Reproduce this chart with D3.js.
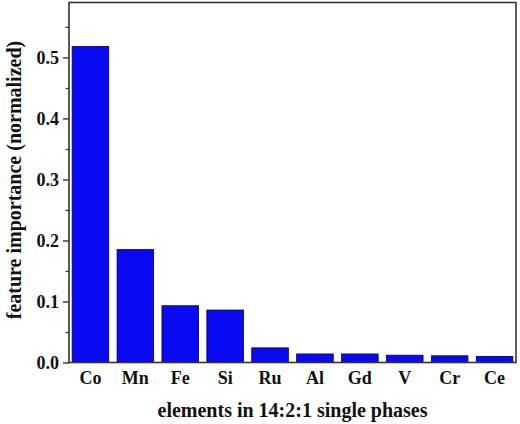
<!DOCTYPE html>
<html>
<head>
<meta charset="utf-8">
<script src="https://cdn.jsdelivr.net/npm/d3@7"></script>
<style>
  body { margin: 0; background: #fff; }
  svg { display: block; font-family: "Liberation Serif", "Times New Roman", serif; font-weight: bold; }
</style>
</head>
<body>
<svg id="chart" width="520" height="424"></svg>
<script>
// element names and normalized importance
const elements = ['Co', 'Mn', 'Fe', 'Si', 'Ru', 'Al', 'Gd', 'V', 'Cr', 'Ce'];
const importance = [0.518, 0.185, 0.093, 0.086, 0.024, 0.014, 0.014, 0.012, 0.011, 0.010];
const yTicks = [0.0, 0.1, 0.2, 0.3, 0.4, 0.5];
const yMinorTicks = [0.05, 0.15, 0.25, 0.35, 0.45, 0.55];

const width = 520;
const height = 424;
const margin = { top: 2.5, right: 4, bottom: 61.5, left: 69 };

const svg = d3.select('#chart');

const x = d3.scaleBand()
    .domain(elements)
    .range([margin.left, width - margin.right])
    .paddingInner(0.185)
    .paddingOuter(0.07);

const y = d3.scaleLinear()
    .domain([0, 0.59])
    .range([height - margin.bottom, margin.top]);

// bars
svg.append('g')
    .selectAll('rect')
    .data(elements)
    .join('rect')
    .attr('x', d => x(d))
    .attr('y', (d, i) => y(importance[i]))
    .attr('width', x.bandwidth())
    .attr('height', (d, i) => y(0) - y(importance[i]))
    .attr('fill', '#0a0af2')
    .attr('stroke', '#00005a')
    .attr('stroke-width', 0.8);

// frame around the plot
svg.append('rect')
    .attr('x', margin.left)
    .attr('y', margin.top)
    .attr('width', width - margin.left - margin.right)
    .attr('height', height - margin.top - margin.bottom)
    .attr('fill', 'none')
    .attr('stroke', '#333')
    .attr('stroke-width', 1.6);

// y axis, major ticks with labels
const yAxis = svg.append('g')
    .attr('transform', `translate(${margin.left},0)`)
    .call(d3.axisLeft(y).tickValues(yTicks).tickFormat(d3.format('.1f')).tickSize(6).tickPadding(4));
yAxis.select('.domain').remove();
yAxis.selectAll('line').attr('stroke', '#333').attr('stroke-width', 1.4);
yAxis.selectAll('text')
    .attr('font-family', '"Liberation Serif", serif')
    .attr('font-weight', 'bold')
    .attr('font-size', 18)
    .attr('fill', '#111');

// minor ticks
const yMinor = svg.append('g')
    .attr('transform', `translate(${margin.left},0)`)
    .call(d3.axisLeft(y).tickValues(yMinorTicks).tickFormat('').tickSize(3.5));
yMinor.select('.domain').remove();
yMinor.selectAll('line').attr('stroke', '#333').attr('stroke-width', 1.2);

// x axis labels
const xAxis = svg.append('g')
    .attr('transform', `translate(0,${height - margin.bottom})`)
    .call(d3.axisBottom(x).tickSize(0).tickPadding(9));
xAxis.select('.domain').remove();
xAxis.selectAll('text')
    .attr('font-family', '"Liberation Serif", serif')
    .attr('font-weight', 'bold')
    .attr('font-size', 18)
    .attr('fill', '#111')
    .attr('dy', '0.71em');

// axis titles
svg.append('text')
    .attr('x', (margin.left + width - margin.right) / 2)
    .attr('y', 417)
    .attr('text-anchor', 'middle')
    .attr('font-size', 20)
    .attr('fill', '#111')
    .text('elements in 14:2:1 single phases');

svg.append('text')
    .attr('transform', 'translate(21,180) rotate(-90)')
    .attr('text-anchor', 'middle')
    .attr('font-size', 20)
    .attr('fill', '#111')
    .text('feature importance (normalized)');
</script>
</body>
</html>
